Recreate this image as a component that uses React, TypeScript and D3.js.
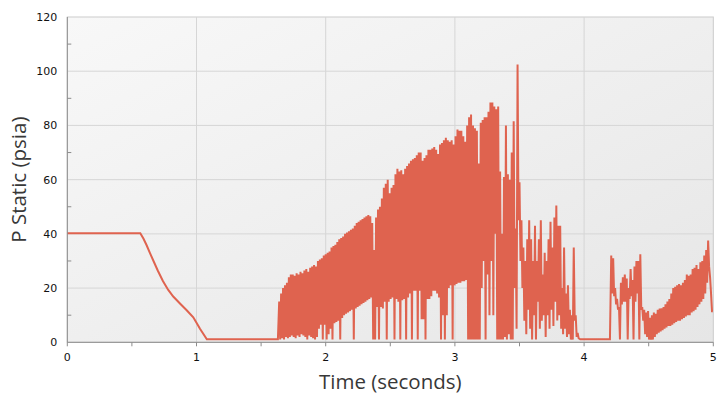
import React, { useEffect, useRef } from "react";
import * as d3 from "d3";

// slow blow-down before the surge starts
const rampTimes = [
  0, 0.565, 0.59, 0.614, 0.64, 0.668, 0.7, 0.74, 0.78, 0.82, 0.872, 0.924, 0.975, 1.0,
  1.027, 1.08, 1.63,
];
const rampValues = [
  40.2, 40.2, 38.2, 35.8, 32.9, 29.9, 26.5, 22.6, 19.4, 16.9, 14.3, 11.8, 9.2, 7.2, 5.0,
  1.1, 1.1,
];

// first surge: one peak + one trough per step, from 1.64 s
const burstStart = 1.64;
const burstStep = 0.015;
const burstHigh = [
  15, 18, 20, 21, 22, 24, 25, 25, 24.5, 25.5,
  25, 26, 25.5, 26.5, 27, 26, 27.5, 28, 28.5, 28,
  30, 30.5, 31, 32, 32.5, 33, 33.5, 35, 35.5, 36,
  37, 38, 38.5, 39, 40, 40.5, 41, 41.5, 42, 43,
  44, 44.5, 45, 45.5, 46, 46.5, 47, 46.5, 44, 34,
  46, 49, 50, 53, 57, 58.5, 60, 55, 57, 58,
  62, 64, 63, 63.5, 62, 64, 65, 66, 67, 67.5,
  68, 69, 70, 70, 67, 68, 69, 71, 71, 71.5,
  72, 71, 69.5, 73, 73.5, 74.5, 75.5, 74.5, 74, 74.5,
  73, 76, 78.5, 78, 78, 76, 74, 80, 83, 84,
  80, 79, 78, 66, 81, 82, 83, 83, 85, 88.5,
  88.5, 87, 86, 87, 63, 40, 61, 80, 62, 60,
  70, 81.5, 42, 102.5, 59, 45, 35, 30, 38, 45,
  38, 30, 43, 30, 38, 45, 25, 33, 30, 38,
  44.5, 35, 46, 50.5, 43, 43, 20, 35, 18, 21,
  12, 10, 35, 10, 3.5,
];
const burstLow = [
  1, 1.5, 1, 2, 1.5, 2, 2.5, 2, 1.5, 2.5,
  2, 3, 2.5, 2, 1, 2.5, 2, 1.5, 1, 2,
  5, 6.5, 1, 6.5, 1, 3, 5, 1, 7, 7.5,
  8, 1, 9, 10, 10.5, 11, 11.5, 12, 1, 12.5,
  13, 13.5, 14, 14.5, 15, 15.5, 16, 16.5, 1, 1,
  13, 1, 13, 12.5, 15, 1, 15, 16, 16.5, 1,
  16, 15, 1, 15.5, 16, 1, 16.5, 18, 1, 19,
  19, 1, 19, 8.5, 8.5, 1, 16, 16, 17, 19,
  19, 18, 16.5, 1, 10, 1, 10, 20, 21, 1,
  21, 21.5, 22, 22, 22.5, 22.5, 23, 1, 1, 1,
  1, 1, 1, 1, 20, 30, 1, 25, 10, 30,
  10, 40, 1, 1, 1, 1, 2, 1, 3, 1,
  1, 20, 5, 45, 30, 20, 8, 3, 12, 5,
  1, 10, 1, 15, 5, 8, 10, 2, 10, 5,
  12, 6, 15, 8, 10, 5, 3, 5, 2, 3,
  1, 1, 8, 2, 1.5,
];

// quiet stretch between bursts
const idleTimes = [3.97, 4.2];
const idleValues = [1.1, 1.1];

// second surge, from 4.21 s
const tailStart = 4.21;
const tailStep = 0.015;
const tailHigh = [
  32, 31, 20, 16, 13, 22, 24, 25, 23.5, 20,
  27, 23, 28, 30, 30, 32.5, 13, 12, 11, 11.5,
  9, 10, 11, 10.5, 12, 12.5, 12.5, 13, 14, 15,
  16, 18, 20, 20.5, 21, 21.5, 21, 22, 23, 25,
  24.5, 25, 27, 27.5, 28.5, 27, 29.5, 30, 32, 34,
  37.5, 24, 11.5,
];
const tailLow = [
  18, 17, 14, 12, 1, 14, 15, 15, 1, 16,
  17, 1, 15, 18, 1, 12, 8, 3, 2, 1,
  1, 1, 2, 3, 3.5, 4, 4.5, 5, 5.5, 6,
  6, 6.5, 7, 7.5, 8, 8, 8.5, 9, 9.5, 10,
  10, 11, 11.5, 12, 13, 14, 15, 16, 18, 22,
  28, 18, 11.5,
];

const xTicks = [0, 1, 2, 3, 4, 5];
const xMinorTicks = [0.5, 1.5, 2.5, 3.5, 4.5];
const yTicks = [0, 20, 40, 60, 80, 100, 120];
const yMinorTicks = [10, 30, 50, 70, 90, 110];

const App = () => {
  const svgRef = useRef(null);

  useEffect(() => {
    document.body.style.margin = "0";
    drawChart();
  }, []);

  const drawChart = () => {
    const svg = d3.select(svgRef.current);
    svg.selectAll("*").remove();

    const left = 67.3;
    const right = 713.3;
    const top = 17;
    const bottom = 342.3;

    const x = d3.scaleLinear().domain([0, 5]).range([left, right]);
    const y = d3.scaleLinear().domain([0, 120]).range([bottom, top]);

    // stitch the single series together
    const points: [number, number][] = [];
    rampTimes.forEach((t, i) => points.push([t, rampValues[i]]));
    burstHigh.forEach((v, i) => {
      points.push([burstStart + i * burstStep, v]);
      points.push([burstStart + (i + 0.5) * burstStep, burstLow[i]]);
    });
    idleTimes.forEach((t, i) => points.push([t, idleValues[i]]));
    tailHigh.forEach((v, i) => {
      points.push([tailStart + i * tailStep, v]);
      points.push([tailStart + (i + 0.5) * tailStep, tailLow[i]]);
    });

    const defs = svg.append("defs");
    const grad = defs
      .append("linearGradient")
      .attr("id", "plotBg")
      .attr("x1", "0")
      .attr("y1", "0")
      .attr("x2", "1")
      .attr("y2", "1");
    grad.append("stop").attr("offset", "0%").attr("stop-color", "#f8f8f8");
    grad.append("stop").attr("offset", "100%").attr("stop-color", "#e6e6e6");

    svg
      .append("rect")
      .attr("x", left)
      .attr("y", top)
      .attr("width", right - left)
      .attr("height", bottom - top)
      .attr("fill", "url(#plotBg)")
      .attr("stroke", "#cbcbcb")
      .attr("stroke-width", 1);

    // grid
    svg
      .append("g")
      .selectAll("line")
      .data(xTicks.slice(1, -1))
      .enter()
      .append("line")
      .attr("x1", (d) => x(d))
      .attr("x2", (d) => x(d))
      .attr("y1", top)
      .attr("y2", bottom)
      .attr("stroke", "#d6d6d6");
    svg
      .append("g")
      .selectAll("line")
      .data(yTicks.slice(1, -1))
      .enter()
      .append("line")
      .attr("x1", left)
      .attr("x2", right)
      .attr("y1", (d) => y(d))
      .attr("y2", (d) => y(d))
      .attr("stroke", "#d6d6d6");

    const line = d3
      .line<[number, number]>()
      .x((d) => x(d[0]))
      .y((d) => y(d[1]));

    svg
      .append("path")
      .datum(points)
      .attr("d", line)
      .attr("fill", "none")
      .attr("stroke", "#df634f")
      .attr("stroke-width", 2);

    // axis lines
    svg
      .append("line")
      .attr("x1", left)
      .attr("x2", left)
      .attr("y1", top)
      .attr("y2", bottom)
      .attr("stroke", "#8c8c8c");
    svg
      .append("line")
      .attr("x1", left)
      .attr("x2", right)
      .attr("y1", bottom)
      .attr("y2", bottom)
      .attr("stroke", "#8c8c8c");

    svg
      .append("g")
      .selectAll("line")
      .data(yMinorTicks)
      .enter()
      .append("line")
      .attr("x1", left)
      .attr("x2", left + 4)
      .attr("y1", (d) => y(d))
      .attr("y2", (d) => y(d))
      .attr("stroke", "#8c8c8c");
    svg
      .append("g")
      .selectAll("line")
      .data(xMinorTicks.concat(xTicks))
      .enter()
      .append("line")
      .attr("x1", (d) => x(d))
      .attr("x2", (d) => x(d))
      .attr("y1", bottom)
      .attr("y2", bottom + 4)
      .attr("stroke", "#8c8c8c");

    const font = "'DejaVu Sans', sans-serif";
    svg
      .append("g")
      .selectAll("text")
      .data(yTicks)
      .enter()
      .append("text")
      .attr("x", left - 10)
      .attr("y", (d) => y(d))
      .attr("dy", "0.35em")
      .attr("text-anchor", "end")
      .attr("font-family", font)
      .attr("font-size", 11)
      .attr("fill", "#111")
      .text((d) => d);
    svg
      .append("g")
      .selectAll("text")
      .data(xTicks)
      .enter()
      .append("text")
      .attr("x", (d) => x(d))
      .attr("y", bottom + 15)
      .attr("dy", "0.35em")
      .attr("text-anchor", "middle")
      .attr("font-family", font)
      .attr("font-size", 11)
      .attr("fill", "#111")
      .text((d) => d);

    svg
      .append("text")
      .attr("x", (left + right) / 2)
      .attr("y", 389)
      .attr("text-anchor", "middle")
      .attr("font-family", "'Open Sans', sans-serif")
      .attr("font-size", 20.5)
      .attr("fill", "#383838")
      .text("Time (seconds)");
    svg
      .append("text")
      .attr("transform", `translate(26, ${(top + bottom) / 2}) rotate(-90)`)
      .attr("text-anchor", "middle")
      .attr("font-family", "'Open Sans', sans-serif")
      .attr("font-size", 20.5)
      .attr("fill", "#383838")
      .text("P Static (psia)");
  };

  return (
    <div>
      <svg ref={svgRef} width={724} height={400} style={{ display: "block" }}></svg>
    </div>
  );
};

export default App;
